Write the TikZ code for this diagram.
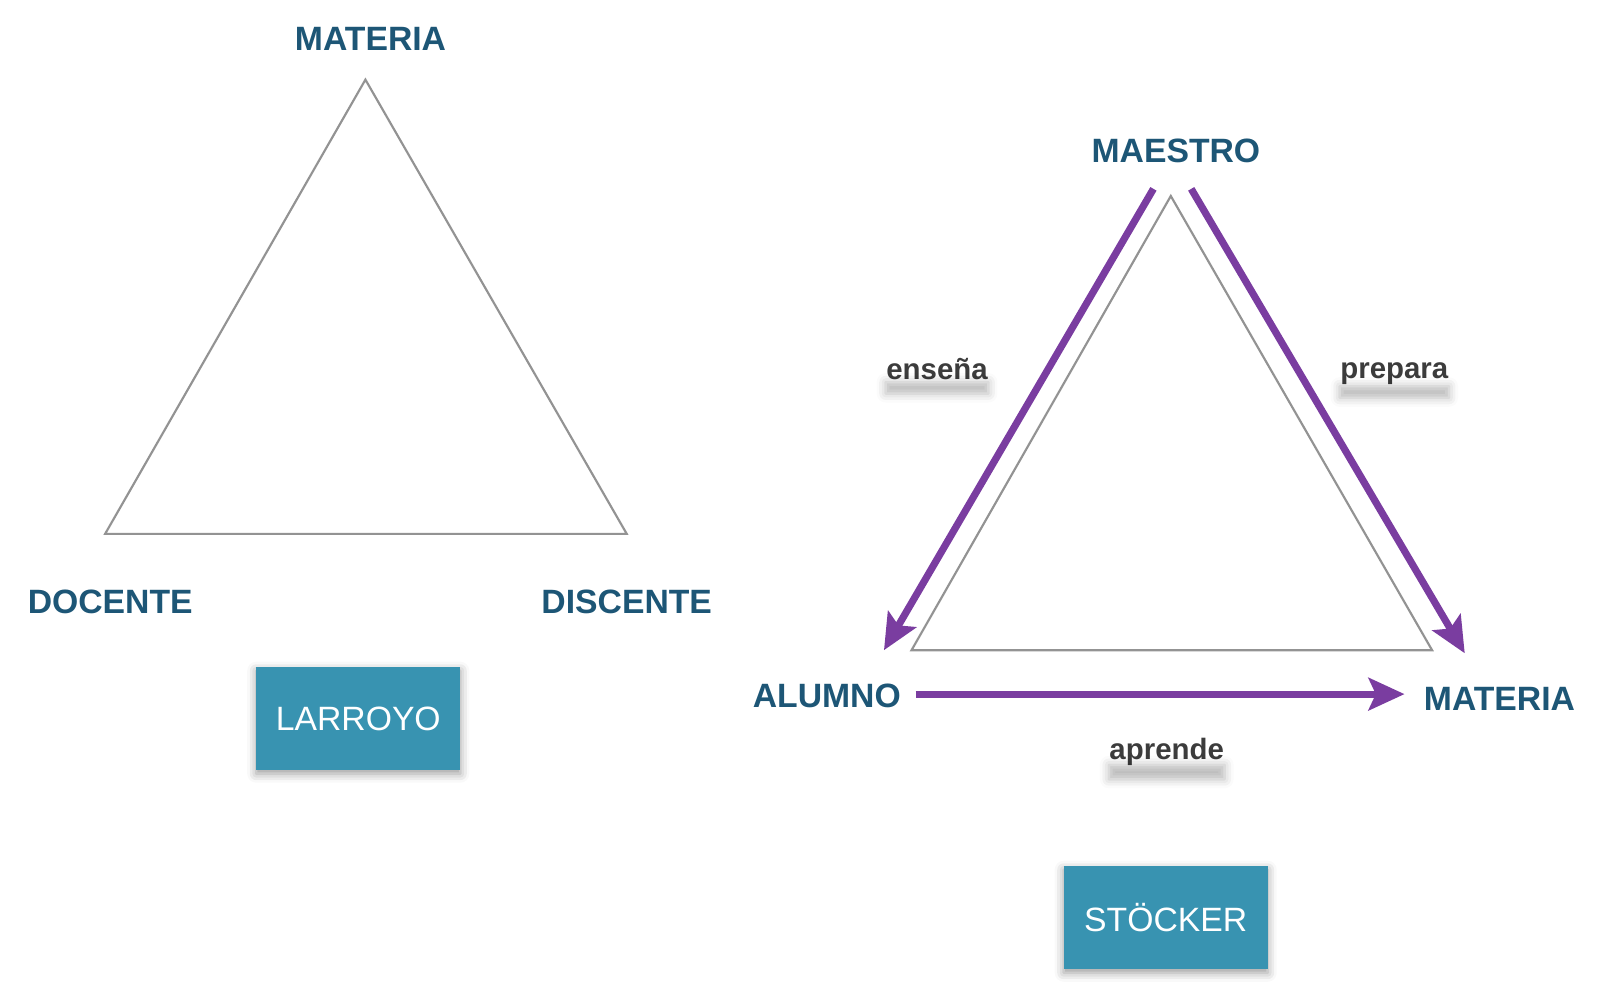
\documentclass[tikz,border=0pt]{standalone}
\usepackage{fontspec}
\setmainfont{Liberation Sans}
\usetikzlibrary{arrows.meta,shadows.blur}
\definecolor{titulo}{HTML}{1D5676}
\definecolor{flecha}{HTML}{7A3DA0}
\definecolor{caja}{HTML}{3893B1}
\definecolor{verbo}{HTML}{3C3C3C}
\tikzset{
  vertice/.style={font=\bfseries\fontsize{9.4}{11}\selectfont,text=titulo,inner sep=0pt},
  verbo/.style={font=\bfseries\fontsize{8.2}{10}\selectfont,text=verbo,inner sep=0pt},
  reflejo/.style={blur shadow={shadow xshift=0pt,shadow yshift=-3.5pt,shadow blur radius=2.5pt,shadow opacity=28}},
  autor/.style={fill=caja,minimum width=2cm,minimum height=1.01cm,text=white,
    font=\fontsize{9.4}{11}\selectfont,
    blur shadow={shadow xshift=0pt,shadow yshift=-1pt,shadow blur radius=2.5pt,shadow opacity=40}},
  lado/.style={draw=gray!85,line width=0.6pt},
  relacion/.style={draw=flecha,line width=2pt,-{Stealth[length=10pt,width=9pt,inset=2pt]}}
}
\begin{document}
\begin{tikzpicture}
\useasboundingbox (0,0) rectangle (15.675,-9.835);
%
% triangulo de Larroyo
\draw[lado](3.58,-0.78)--(6.14,-5.23)--(1.03,-5.23)--cycle;
\node[vertice] (materiaA) at (3.63,-0.38) {MATERIA};
\node[vertice] (docente) at (1.08,-5.90) {DOCENTE};
\node[vertice] (discente) at (6.14,-5.90) {DISCENTE};
\node[autor] (larroyo) at (3.51,-7.04) {LARROYO};
%
% triangulo de Stoecker
\draw[lado](11.47,-1.92)--(14.03,-6.37)--(8.93,-6.37)--cycle;
\node[vertice] (maestro) at (11.52,-1.48) {MAESTRO};
\node[vertice] (alumno) at (8.10,-6.82) {ALUMNO};
\node[vertice] (materiaB) at (14.69,-6.85) {MATERIA};
\node[autor] (stoecker) at (11.42,-8.99) {STÖCKER};
%
\coordinate (ma1) at (11.30,-1.85);
\coordinate (al1) at (8.66,-6.37);
\coordinate (ma2) at (11.67,-1.85);
\coordinate (mb2) at (14.35,-6.40);
\coordinate (al3) at (8.97,-6.80);
\coordinate (mb3) at (13.76,-6.80);
\draw[relacion](ma1)--(al1);
\draw[relacion](ma2)--(mb2);
\draw[relacion](al3)--(mb3);
%
\node[verbo] (ensena) at (9.18,-3.62) {enseña};
\node[verbo] (prepara) at (13.66,-3.66) {prepara};
\node[verbo] (aprende) at (11.43,-7.37) {aprende};
\path[reflejo](ensena.west)rectangle(ensena.south east);
\path[reflejo](prepara.west)rectangle(prepara.south east);
\path[reflejo](aprende.west)rectangle(aprende.south east);
\end{tikzpicture}
\end{document}
